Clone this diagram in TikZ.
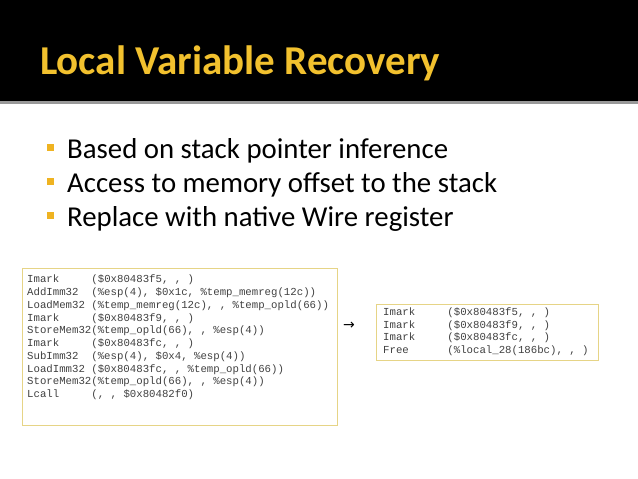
\documentclass[tikz,border=0pt]{standalone}
\usepackage{fontspec}
\setmainfont{Carlito}
\newfontfamily\codefont{Liberation Mono}
\newfontfamily\symfont{DejaVu Sans}
\definecolor{titley}{HTML}{F2C12E}
\definecolor{bulleto}{HTML}{EFB321}
\definecolor{boxline}{HTML}{E6D486}
\begin{document}
\begin{tikzpicture}[x=1pt,y=-1pt,
  codebox/.style={draw=boxline,line width=0.8pt,anchor=north west,inner sep=0pt},
  code/.style={anchor=north west,align=left,inner sep=0pt,font=\codefont\fontsize{10.7}{12.75}\selectfont,text=black!75},
  bul/.style={anchor=base west,font=\fontsize{28.8}{32}\selectfont,inner sep=0pt}]
\useasboundingbox (0,0) rectangle (638,479);
\fill[black] (0,0) rectangle (638,101);
\fill[black!40] (0,101) rectangle (638,103.5);
\node[anchor=base west,inner sep=0pt,text=titley,font=\bfseries\fontsize{41}{44}\selectfont] (title) at (40,74) {Local Variable Recovery};
\foreach \y/\t [count=\i] in {158/Based on stack pointer inference,192/Access to memory offset to the stack,226/Replace with native Wire register}{
  \fill[bulleto] (47,\y-14) rectangle ++(7,7);
  \node[bul] (b\i) at (67,\y) {\t};
}
\draw[boxline,line width=0.8pt] (22,268) rectangle (337,425);
\node[code] (left) at (27,275) {Imark~~~~~(\$0x80483f5,~,~)\\
AddImm32~~(\%esp(4),~\$0x1c,~\%temp\_memreg(12c))\\
LoadMem32~(\%temp\_memreg(12c),~,~\%temp\_opld(66))\\
Imark~~~~~(\$0x80483f9,~,~)\\
StoreMem32(\%temp\_opld(66),~,~\%esp(4))\\
Imark~~~~~(\$0x80483fc,~,~)\\
SubImm32~~(\%esp(4),~\$0x4,~\%esp(4))\\
LoadImm32~(\$0x80483fc,~,~\%temp\_opld(66))\\
StoreMem32(\%temp\_opld(66),~,~\%esp(4))\\
Lcall~~~~~(,~,~\$0x80482f0)};
\draw[boxline,line width=0.8pt] (376,304) rectangle (598,360);
\node[code] (right) at (383,307.5) {Imark~~~~~(\$0x80483f5,~,~)\\
Imark~~~~~(\$0x80483f9,~,~)\\
Imark~~~~~(\$0x80483fc,~,~)\\
Free~~~~~~(\%local\_28(186bc),~,~)};
\node[inner sep=0pt,font=\symfont\fontsize{14}{14}\selectfont] (arr) at (349,326) {→};
\end{tikzpicture}
\end{document}
